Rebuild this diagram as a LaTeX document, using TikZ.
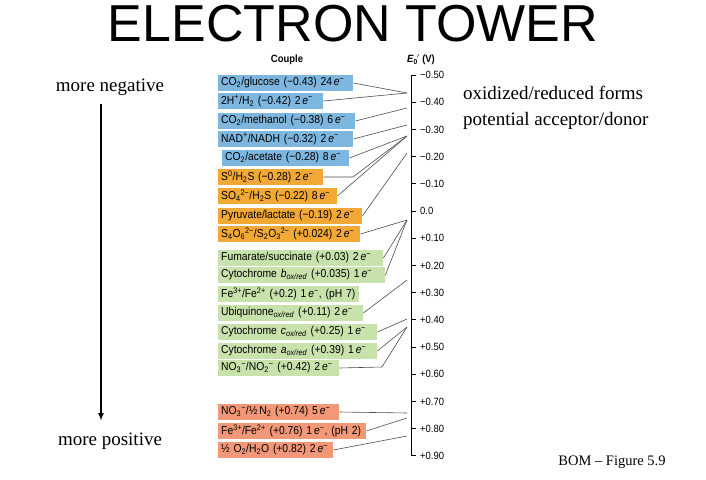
\documentclass[tikz,border=0pt]{standalone}
\usepackage{fontspec}
\usetikzlibrary{arrows.meta}
\setmainfont{Liberation Serif}
\setsansfont{Liberation Sans}
\newfontfamily\arialn[FakeStretch=0.9]{Liberation Sans}
\definecolor{cblue}{RGB}{125,182,222}
\definecolor{corange}{RGB}{242,168,52}
\definecolor{cgreen}{RGB}{200,226,172}
\definecolor{csalmon}{RGB}{242,152,120}
\tikzset{
 bx/.style={fill=#1,anchor=west,minimum height=16pt,inner sep=1pt,inner xsep=3pt,font=\arialn\fontsize{11.5}{12}\selectfont,align=left},
 w/.style={text width=#1pt-6pt},
 cn/.style={draw=black!70,line width=0.6pt},
 tk/.style={font=\arialn\fontsize{10.5}{11}\selectfont,anchor=west,inner sep=0pt},
 big/.style={font=\fontsize{19}{22}\selectfont,inner sep=0pt}
}
\newcommand{\ee}{\,\textit{e}\textsuperscript{−}}
\begin{document}
\begin{tikzpicture}[x=1pt,y=-1pt]
\useasboundingbox (0,0) rectangle (706,479);
\node[font=\sffamily\fontsize{52}{56}\selectfont,inner sep=0pt] (title) at (353,24) {ELECTRON TOWER};
\node[font=\arialn\bfseries\fontsize{10.5}{11}\selectfont] (couple) at (287,60) {Couple};
\node[font=\arialn\bfseries\fontsize{10.5}{11}\selectfont] (eh) at (421,60) {\textit{E}\textsubscript{0}\kern-1pt$'$ (V)};
% axis
\draw[line width=1pt] (411,75) -- (411,456);
\foreach \t [count=\i from 0] in {−0.50,−0.40,−0.30,−0.20,−0.10,0.0,+0.10,+0.20,+0.30,+0.40,+0.50,+0.60,+0.70,+0.80,+0.90}{
  \pgfmathsetmacro\yy{75+\i*27.2}
  \draw[line width=0.8pt] (411,\yy) -- (416,\yy);
  \node[tk] (t\i) at (420,\yy) {\t};
}
% boxes
\node[bx=cblue,w=135] (b1) at (218,83) {CO\textsubscript{2}/glucose (−0.43) 24\ee};
\node[bx=cblue,w=105] (b2) at (218,101) {2H\textsuperscript{+}/H\textsubscript{2} (−0.42) 2\ee};
\node[bx=cblue,w=137] (b3) at (218,121) {CO\textsubscript{2}/methanol (−0.38) 6\ee};
\node[bx=cblue,w=135] (b4) at (218,139) {NAD\textsuperscript{+}/NADH (−0.32) 2\ee};
\node[bx=cblue,w=127] (b5) at (222,158) {CO\textsubscript{2}/acetate (−0.28) 8\ee};
\node[bx=corange,w=105] (b6) at (218,177) {S\textsuperscript{0}/H\textsubscript{2}S (−0.28) 2\ee};
\node[bx=corange,w=119] (b7) at (218,196) {SO\textsubscript{4}\textsuperscript{2−}/H\textsubscript{2}S (−0.22) 8\ee};
\node[bx=corange,w=144] (b8) at (218,216) {Pyruvate/lactate (−0.19) 2\ee};
\node[bx=corange,w=142] (b9) at (218,234) {S\textsubscript{4}O\textsubscript{6}\textsuperscript{2−}/S\textsubscript{2}O\textsubscript{3}\textsuperscript{2−} (+0.024) 2\ee};
\node[bx=cgreen,w=165] (b10) at (218,258) {Fumarate/succinate (+0.03) 2\ee};
\node[bx=cgreen,w=167] (b11) at (218,275) {Cytochrome \textit{b}\textsubscript{\textit{ox/red}} (+0.035) 1\ee};
\node[bx=cgreen,w=141] (b12) at (218,294) {Fe\textsuperscript{3+}/Fe\textsuperscript{2+} (+0.2) 1\ee, (pH 7)};
\node[bx=cgreen,w=145] (b13) at (218,313) {Ubiquinone\textsubscript{\textit{ox/red}} (+0.11) 2\ee};
\node[bx=cgreen,w=159] (b14) at (218,332) {Cytochrome \textit{c}\textsubscript{\textit{ox/red}} (+0.25) 1\ee};
\node[bx=cgreen,w=159] (b15) at (218,351) {Cytochrome \textit{a}\textsubscript{\textit{ox/red}} (+0.39) 1\ee};
\node[bx=cgreen,w=121] (b16) at (218,368) {NO\textsubscript{3}\textsuperscript{−}/NO\textsubscript{2}\textsuperscript{−} (+0.42) 2\ee};
\node[bx=csalmon,w=121] (b17) at (218,412) {NO\textsubscript{3}\textsuperscript{−}/\textonehalf\,N\textsubscript{2} (+0.74) 5\ee};
\node[bx=csalmon,w=148] (b18) at (218,431) {Fe\textsuperscript{3+}/Fe\textsuperscript{2+} (+0.76) 1\ee, (pH 2)};
\node[bx=csalmon,w=115] (b19) at (218,450) {\textonehalf\ O\textsubscript{2}/H\textsubscript{2}O (+0.82) 2\ee};
% connector targets
\coordinate (p1) at (407,93);
\coordinate (p2) at (407,108);
\coordinate (p3) at (407,125);
\coordinate (p4) at (407,136);
\coordinate (p5) at (407,153);
\coordinate (p6) at (407,220);
\coordinate (p7) at (407,280);
\coordinate (p8) at (407,319);
\coordinate (p9) at (407,327);
\coordinate (p10) at (407,413);
\coordinate (p11) at (407,418);
\coordinate (p12) at (407,436);
\coordinate (k6) at (353,177);
\coordinate (k16) at (382,367);
\draw[cn] (b1.east) -- (p1);
\draw[cn] (b2.east) -- (p1);
\draw[cn] (b3.east) -- (p2);
\draw[cn] (b4.east) -- (p3);
\draw[cn] (b5.east) -- (p4);
\draw[cn] (b6.east) -- (k6) -- (p4);
\draw[cn] (b7.east) -- (p4);
\draw[cn] (b8.east) -- (p5);
\draw[cn] (b9.east) -- (p6);
\draw[cn] (b10.east) -- (p6);
\draw[cn] (b11.east) -- (p6);
\draw[cn] (b13.east) -- (p7);
\draw[cn] (b14.east) -- (p8);
\draw[cn] (b15.east) -- (p9);
\draw[cn] (b16.east) -- (k16) -- (p9);
\draw[cn] (b17.east) -- (p10);
\draw[cn] (b18.east) -- (p11);
\draw[cn] (b19.east) -- (p12);
% side texts
\node[big] (mn) at (110,87) {more negative};
\node[big] (mp) at (110,441) {more positive};
\coordinate (a0) at (101,104);
\coordinate (a1) at (101,421);
\draw[line width=1.6pt,-{Latex[length=8pt,width=6pt]}] (a0) -- (a1);
\node[big,anchor=west] (ox) at (463,93) {oxidized/reduced forms};
\node[big,anchor=west] (pa) at (463,121) {potential acceptor/donor};
\node[font=\fontsize{14.5}{16}\selectfont,inner sep=0pt] (bom) at (612,462) {BOM – Figure 5.9};
\end{tikzpicture}
\end{document}
